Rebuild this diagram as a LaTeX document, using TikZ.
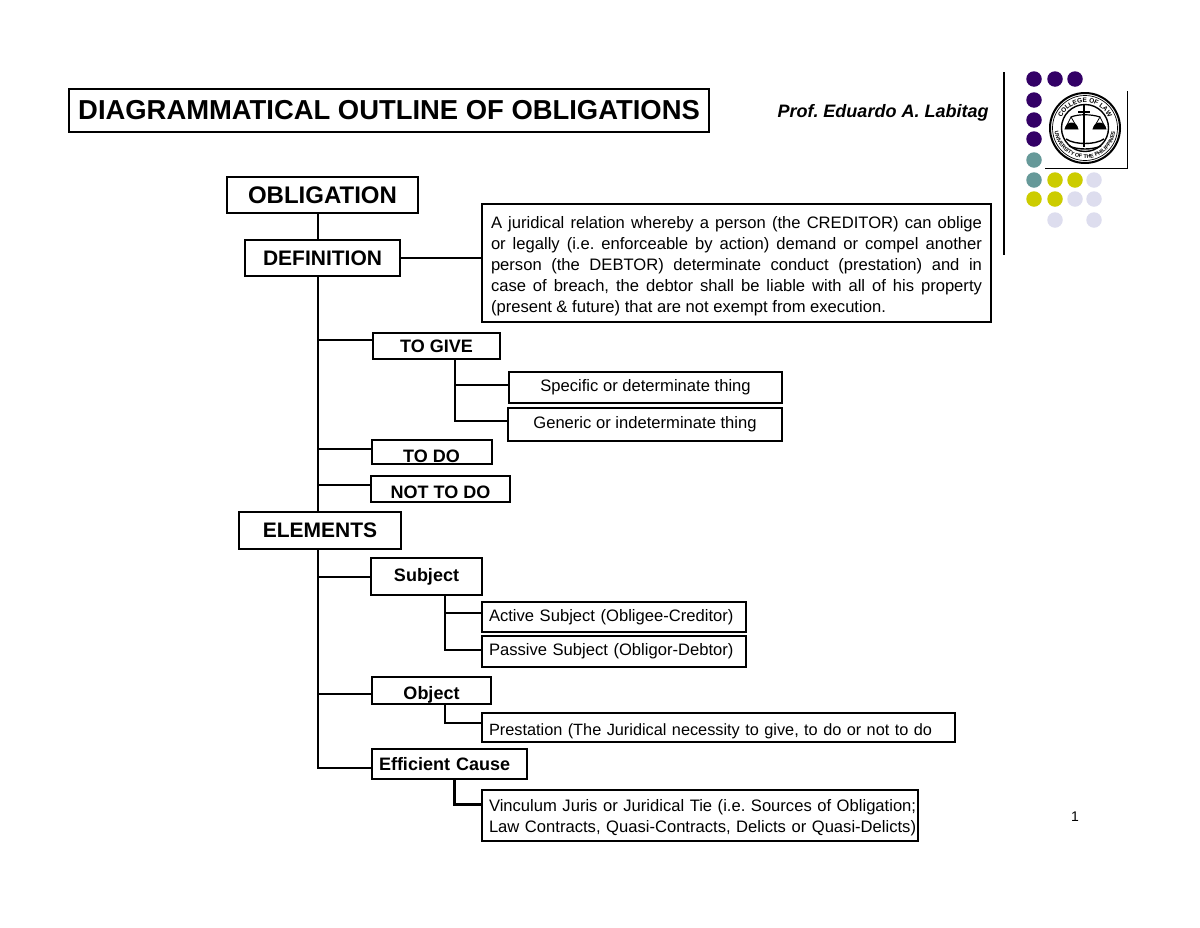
\documentclass[tikz,border=0pt]{standalone}
\usepackage{fontspec}
\setmainfont{Liberation Sans}
\frenchspacing
\usepackage{tikz}
\usetikzlibrary{calc}
\usetikzlibrary{decorations.text}
\definecolor{dotpurple}{HTML}{330066}
\definecolor{dotteal}{HTML}{669999}
\definecolor{dotyellow}{HTML}{CCCC00}
\definecolor{dotlilac}{HTML}{DDDDEE}
\tikzstyle{cont}=[rectangle, draw=black, line width=2pt, outer sep=0pt, inner sep=1pt, fill=white]
\tikzstyle{big}=[cont, font=\fontsize{21}{24}\selectfont\bfseries]
\tikzstyle{mid}=[cont, font=\fontsize{18}{20}\selectfont\bfseries]
\tikzstyle{leaf}=[cont, font=\fontsize{16.6}{21}\selectfont]
\tikzstyle{tree}=[line width=2pt]
\tikzstyle{contdot}=[circle, minimum size=15.5pt, inner sep=0pt, outer sep=0pt]
\begin{document}
\begin{tikzpicture}[x=1pt,y=-1pt]
\useasboundingbox (0,0) rectangle (1200,927);
\node[cont,minimum width=640,minimum height=43,font=\fontsize{27.4}{28}\selectfont\bfseries] (title) at (389,110.5) {DIAGRAMMATICAL OUTLINE OF OBLIGATIONS};
\node[font=\fontsize{18}{20}\selectfont\bfseries\itshape] (prof) at (883,113) {Prof. Eduardo A. Labitag};
\node[big,font=\fontsize{24}{26}\selectfont\bfseries,minimum width=191,minimum height=36] (obligation) at (322.5,195) {OBLIGATION};
\node[big,minimum width=155,minimum height=36] (definition) at (322.5,258) {DEFINITION};
\node[leaf,text width=491,align=justify,minimum height=118,inner xsep=9pt] (meaning) at (736.5,263) {\rule{0pt}{18pt}A juridical relation whereby a person (the CREDITOR) can oblige\linebreak or legally (i.e. enforceable by action) demand or compel another\linebreak person (the DEBTOR) determinate conduct (prestation) and in\linebreak case of breach, the debtor shall be liable with all of his property\linebreak (present \& future) that are not exempt from execution.};
\node[mid,minimum width=127,minimum height=26] (togive) at (436.5,346) {TO GIVE};
\node[leaf,minimum width=273,minimum height=31] (specific) at (645.5,387.5) {Specific or determinate thing};
\node[leaf,minimum width=274,minimum height=33] (generic) at (645,424.5) {Generic or indeterminate thing};
\node[mid,minimum width=120,minimum height=24,text height=21,text depth=0] (todo) at (431.5,452) {TO DO};
\node[mid,minimum width=139,minimum height=26,text height=18,text depth=0] (nottodo) at (440.5,489) {NOT TO DO};
\node[big,minimum width=162,minimum height=37] (elements) at (320,530.5) {ELEMENTS};
\node[mid,minimum width=111,minimum height=37] (subject) at (426.5,576.5) {Subject};
\node[leaf,minimum width=264,minimum height=30,text width=250,align=left] (active) at (614,617) {Active Subject (Obligee-Creditor)};
\node[leaf,minimum width=264,minimum height=31,text width=250,align=left] (passive) at (614,651.5) {Passive Subject (Obligor-Debtor)};
\node[mid,minimum width=119,minimum height=27,text height=17,text depth=0] (object) at (431.5,690.5) {Object};
\node[leaf,font=\fontsize{16.3}{21}\selectfont,minimum width=473,minimum height=29,text width=459,align=left,text height=15,text depth=0] (prestation) at (718.5,727.5) {Prestation (The Juridical necessity to give, to do or not to do};
\node[mid,minimum width=155,minimum height=30,text width=141,align=left] (efficient) at (449.5,764) {Efficient Cause};
\node[leaf,minimum width=436,minimum height=51,text width=422,align=left] (vinculum) at (700,815.5) {\rule{0pt}{17pt}\mbox{Vinculum Juris or Juridical Tie (i.e. Sources of Obligation;}\\\mbox{Law Contracts, Quasi-Contracts, Delicts or Quasi-Delicts)}};
\node[font=\fontsize{14}{16}\selectfont] (pagenum) at (1075,817) {1};
\coordinate (trunk) at (318,0);
\coordinate (givebar) at (455,0);
\coordinate (subjectbar) at (445,0);
\coordinate (objectbar) at (445,0);
\coordinate (causebar) at (454,0);
\draw[tree] (obligation.south -| trunk) -- (definition.north -| trunk);
\draw[tree] (definition) -- (meaning.west |- definition);
\draw[tree] (definition.south -| trunk) -- (elements.north -| trunk);
\draw[tree] (definition.south -| trunk) |- ([yshift=6pt]togive.west);
\draw[tree] (definition.south -| trunk) |- ([yshift=3pt]todo.west);
\draw[tree] (definition.south -| trunk) |- ([yshift=4pt]nottodo.west);
\draw[tree] (togive.south -| givebar) |- (specific.west |- 0,385);
\draw[tree] (togive.south -| givebar) |- (generic.west |- 0,421);
\draw[tree] (elements.south -| trunk) |- (subject.west);
\draw[tree] (elements.south -| trunk) |- ([yshift=-3pt]object.west);
\draw[tree] (elements.south -| trunk) |- ([yshift=-4pt]efficient.west);
\draw[tree] (subject.south -| subjectbar) |- ([yshift=4pt]active.west);
\draw[tree] (subject.south -| subjectbar) |- ([yshift=2pt]passive.west);
\draw[tree] (object.south -| objectbar) |- ([yshift=5pt]prestation.west);
\draw[tree,line width=3pt] (efficient.south -| causebar) |- ([yshift=11pt]vinculum.west);
% the side rule and the dots
\coordinate (ruletop) at (1004,72);
\coordinate (rulebot) at (1004,255);
\draw[line width=2pt] (ruletop) -- (rulebot);
\node[contdot,fill=dotpurple] (d1) at (1034,79) {};
\node[contdot,fill=dotpurple] (d2) at (1055,79) {};
\node[contdot,fill=dotpurple] (d3) at (1075,79) {};
\node[contdot,fill=dotpurple] (d4) at (1034,100) {};
\node[contdot,fill=dotpurple] (d5) at (1034,120) {};
\node[contdot,fill=dotpurple] (d6) at (1034,139) {};
\node[contdot,fill=dotteal] (d7) at (1034,160) {};
\node[contdot,fill=dotteal] (d8) at (1034,180) {};
\node[contdot,fill=dotyellow] (d9) at (1055,180) {};
\node[contdot,fill=dotyellow] (d10) at (1075,180) {};
\node[contdot,fill=dotlilac] (d11) at (1094,180) {};
\node[contdot,fill=dotyellow] (d12) at (1034,199) {};
\node[contdot,fill=dotyellow] (d13) at (1055,199) {};
\node[contdot,fill=dotlilac] (d14) at (1075,199) {};
\node[contdot,fill=dotlilac] (d15) at (1094,199) {};
\node[contdot,fill=dotlilac] (d16) at (1055,220) {};
\node[contdot,fill=dotlilac] (d17) at (1094,220) {};
% the seal
\draw[line width=1pt] (1045,168) -- (1127,168) -- (1127,91);
\coordinate (seal) at (1085,128);
\draw[line width=2pt] (seal) circle (35);
\draw[line width=0.7pt] (seal) circle (32.5);
\draw[line width=1.4pt] (seal) circle (23.5);
\path[decorate,decoration={text along path,text align=center,text={|\fontsize{6.5}{6}\selectfont\bfseries|COLLEGE OF LAW}}] ($(seal)+(180:25.5)$) arc[start angle=180,end angle=360,radius=25.5];
\path[decorate,decoration={text along path,text align=center,text={|\fontsize{5.4}{6}\selectfont\bfseries|UNIVERSITY OF THE PHILIPPINES}}] ($(seal)+(186:30.5)$) arc[start angle=186,end angle=-6,radius=30.5];
\draw[line width=2.6pt] (1084,105) -- (1084,147);
\draw[line width=1.6pt] (1078,112) -- (1090,112);
\draw[line width=1.2pt] (1071,117) .. controls (1078,114) and (1091,114) .. (1100,117);
\draw[line width=0.8pt] (1071,117) -- (1065,129) -- (1078,129) -- cycle;
\draw[line width=0.8pt] (1100,117) -- (1093,129) -- (1106,129) -- cycle;
\fill (1065,129) arc[start angle=180,end angle=360,radius=6.5] -- cycle;
\fill (1093,129) arc[start angle=180,end angle=360,radius=6.5] -- cycle;
\draw[line width=1.4pt] (1066,139) .. controls (1075,145) and (1095,145) .. (1104,139);
\draw[line width=1.4pt] (1069,146) .. controls (1078,150) and (1092,150) .. (1101,146);
\end{tikzpicture}
\end{document}
